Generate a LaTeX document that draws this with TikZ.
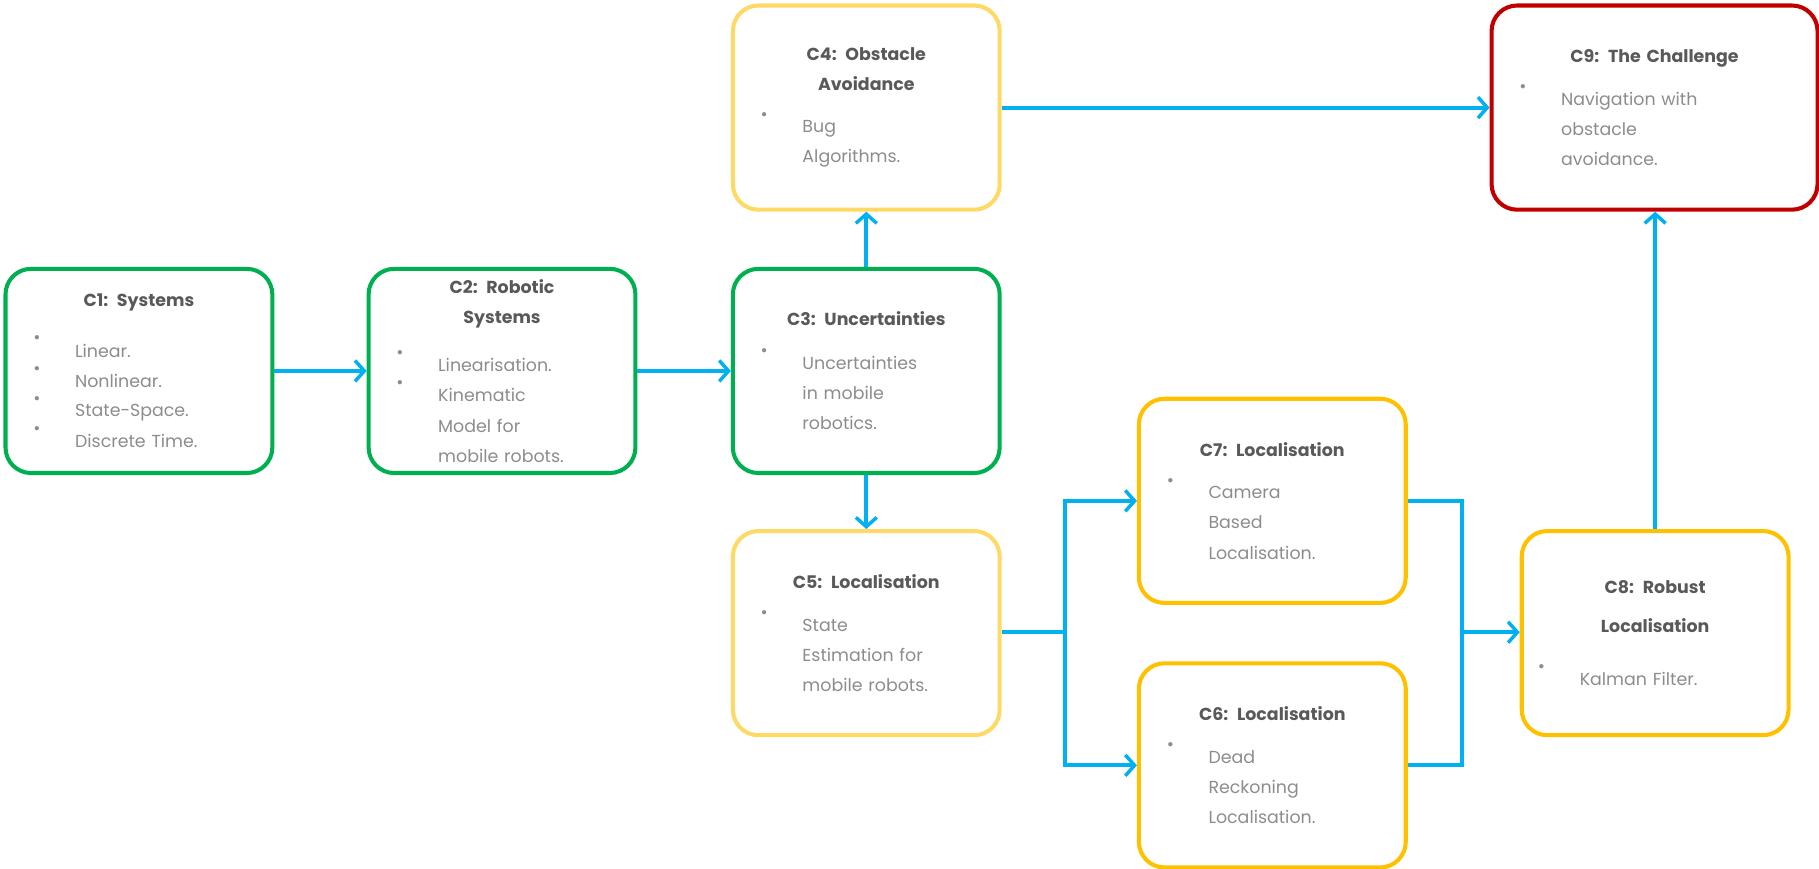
\documentclass[tikz,border=0pt]{standalone}
\usepackage{fontspec}
\usetikzlibrary{arrows.meta}
\setmainfont{Poppins}
\definecolor{grn}{HTML}{00B050}
\definecolor{lyel}{HTML}{FFD966}
\definecolor{yel}{HTML}{FFC000}
\definecolor{rd}{HTML}{C00000}
\definecolor{blu}{HTML}{00B0F0}
\definecolor{ttl}{HTML}{595959}
\definecolor{bdy}{HTML}{8C8C8C}
\newcommand{\ttlx}[1]{{\centering\bfseries\color{ttl}#1\par}}
\newcommand{\bitx}[2][22]{\par\noindent\hspace*{#1pt}\makebox[36pt][l]{\color{bdy}\textbullet}\parbox[t]{160pt}{\color{bdy}#2}\par}
\begin{document}
\begin{tikzpicture}[x=1pt,y=-1pt,
 box/.style={draw,line width=3.5pt,rounded corners=22pt,minimum width=230pt,minimum height=176pt,
   text width=226pt,inner sep=2pt,font=\fontsize{15}{26}\selectfont,anchor=north west},
 ar/.style={draw=blu,line width=3.5pt,-{Straight Barb[length=8pt,width=18pt,line width=3pt]}},
 ln/.style={draw=blu,line width=3.5pt}]
\useasboundingbox (0,0) rectangle (1568,749);
\node[box,draw=grn] (c1) at (3,230) {\ttlx{C1: Systems}\vspace{6pt}\bitx{Linear.}\bitx{Nonlinear.}\bitx{State-Space.}\bitx{Discrete Time.}};
\node[box,draw=grn] (c2) at (316,230) {\ttlx{C2: Robotic\\Systems}\vspace{4pt}\bitx{Linearisation.}\bitx{Kinematic\\Model for\\mobile robots.}};
\node[box,draw=grn] (c3) at (630,230) {\ttlx{C3: Uncertainties}\bitx{Uncertainties\\in mobile\\robotics.}};
\node[box,draw=lyel] (c4) at (630,3) {\ttlx{C4: Obstacle\\Avoidance}\bitx{Bug\\Algorithms.}};
\node[box,draw=rd,minimum width=281pt,text width=277pt] (c9) at (1284,3) {\ttlx{C9: The Challenge}\bitx{Navigation with\\obstacle\\avoidance.}};
\node[box,draw=lyel] (c5) at (630,456) {\ttlx{C5: Localisation}\bitx{State\\Estimation for\\mobile robots.}};
\node[box,draw=yel] (c7) at (980,342) {\ttlx{C7: Localisation}\bitx{Camera\\Based\\Localisation.}};
\node[box,draw=yel] (c6) at (980,570) {\ttlx{C6: Localisation}\bitx{Dead\\Reckoning\\Localisation.}};
\node[box,draw=yel] (c8) at (1310,456) {\ttlx{C8: Robust\\[8pt]Localisation}\vspace{8pt}\bitx[12]{Kalman Filter.}};
\coordinate (jl) at (918,545);
\coordinate (jr) at (1260,545);
\path[ar] (c1.east) -- (c2.west);
\path[ar] (c2.east) -- (c3.west);
\path[ar] (c3.north) -- (c4.south);
\path[ar] (c3.south) -- (c5.north);
\path[ar] (c4.east) -- (c4.east -| c9.west);
\path[ar] (c8.north) -- (c8.north |- c9.south);
\path[ln] (c5.east |- jl) -- (jl);
\path[ar] (jl |- c5.east) -- (jl |- c7.west) -- (c7.west);
\path[ar] (jl) -- (jl |- c6.west) -- (c6.west);
\path[ln] (c7.east) -- (jr |- c7.east) -- (jr |- c6.east) -- (c6.east);
\path[ar] (jr) -- (jr -| c8.west);
\end{tikzpicture}
\end{document}
